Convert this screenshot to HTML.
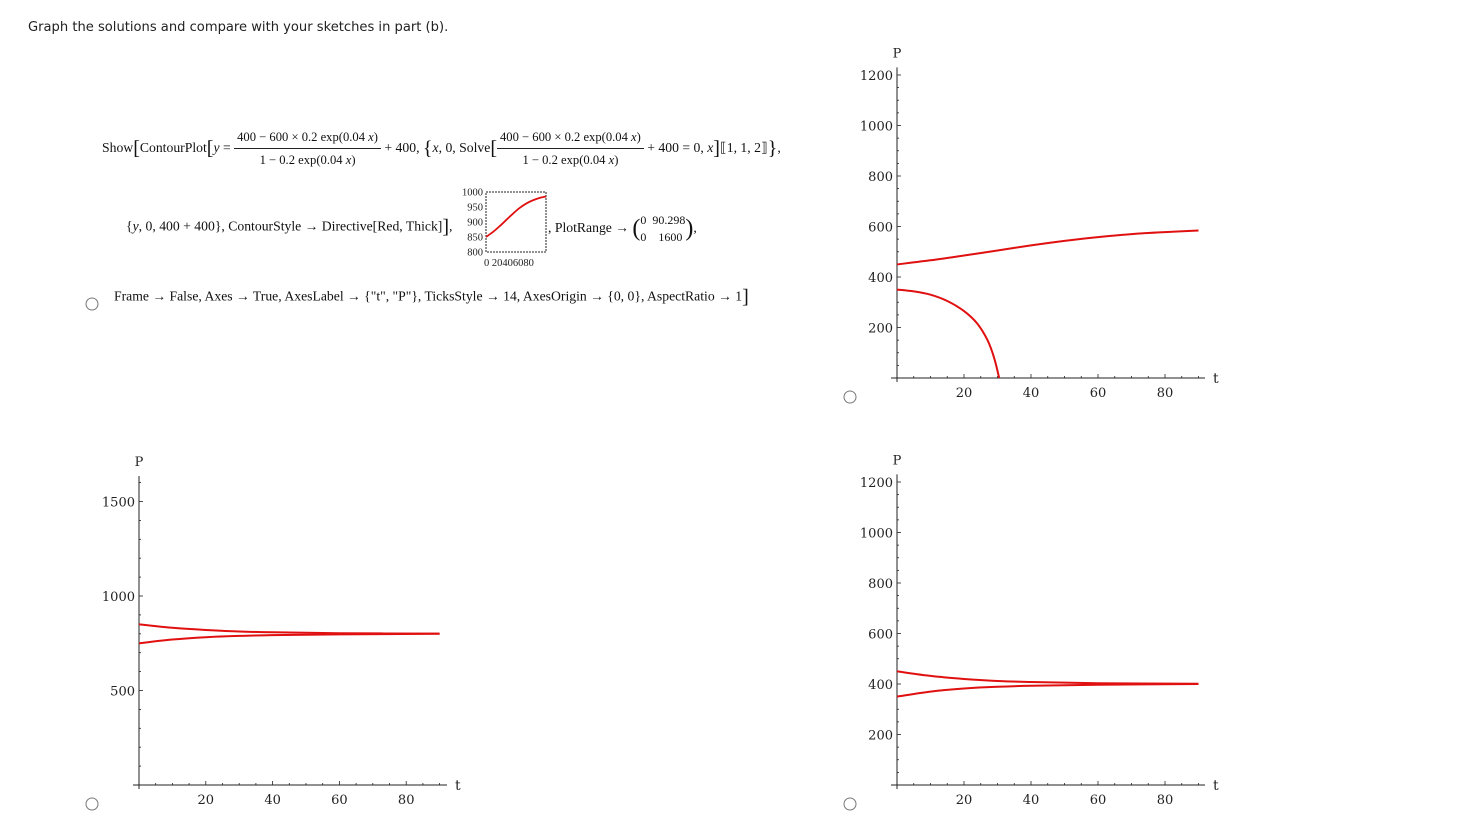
<!DOCTYPE html>
<html><head><meta charset="utf-8">
<style>
body{margin:0;width:1480px;height:829px;background:#fff;position:relative;overflow:hidden;font-family:"Liberation Serif",serif;color:#111}
.a{position:absolute;white-space:nowrap}
.m{font-size:13.7px}
.fr{display:inline-block;vertical-align:middle;text-align:center;font-size:12.6px}
.fr .n{border-bottom:1px solid #222;padding:0 3px 3px}
.fr .d{padding-top:4px}
</style></head>
<body>
<div class="a" style="left:28px;top:20px;font-family:'DejaVu Sans',sans-serif;font-size:13.1px;color:#222">Graph the solutions and compare with your sketches in part (b).</div>

<div class="a m" style="left:102px;top:130px">
Show<span style="font-size:20px;vertical-align:middle">[</span>ContourPlot<span style="font-size:20px;vertical-align:middle">[</span><i>y</i> =
<span class="fr"><div class="n">400 − 600 × 0.2 exp(0.04 <i>x</i>)</div><div class="d">1 − 0.2 exp(0.04 <i>x</i>)</div></span>
 + 400, <span style="font-size:20px;vertical-align:middle">{</span><i>x</i>, 0, Solve<span style="font-size:20px;vertical-align:middle">[</span><span class="fr"><div class="n">400 − 600 × 0.2 exp(0.04 <i>x</i>)</div><div class="d">1 − 0.2 exp(0.04 <i>x</i>)</div></span> + 400 = 0, <i>x</i><span style="font-size:20px;vertical-align:middle">]</span>⟦1, 1, 2⟧<span style="font-size:20px;vertical-align:middle">}</span>,
</div>
<div class="a m" style="left:126px;top:216px">{<i>y</i>, 0, 400 + 400}, ContourStyle → Directive[Red, Thick]<span style="font-size:20px;vertical-align:middle">]</span>,</div>
<div class="a m" style="left:548px;top:212px">, PlotRange → <span style="font-size:24px;vertical-align:middle">(</span><span style="display:inline-block;vertical-align:middle;font-size:12px;line-height:17px">0&nbsp;&nbsp;90.298<br>0&nbsp;&nbsp;&nbsp;&nbsp;1600</span><span style="font-size:24px;vertical-align:middle">)</span>,</div>
<div class="a m" style="left:114px;top:286px">Frame → False, Axes → True, AxesLabel → {"t", "P"}, TicksStyle → 14, AxesOrigin → {0, 0}, AspectRatio → 1<span style="font-size:20px;vertical-align:middle">]</span></div>

<svg id="s" width="1480" height="829" style="position:absolute;left:0;top:0">
<g id="radios"></g>
</svg>
<script>
// chart A (top-right)
const tA_up=[0,10,20,30,40,50,60,70,80,90];
const pA_up=[450,466,485,505,525,543,558,570,578,584];
const tA_lo=[0,5,10,15,20,24,27,29,30.5];
const pA_lo=[350,343,330,305,265,215,150,80,0];
// chart B (bottom-left)
const tB=[0,10,20,30,40,60,90];
const pB_up=[850,832,820,812,808,803,801];
const pB_lo=[750,770,782,789,793,797,800];
// chart C (bottom-right)
const tC=[0,10,20,30,40,60,90];
const pC_up=[450,432,420,412,408,403,401];
const pC_lo=[350,370,382,389,393,397,400];
// inset
const tI=[0,10,20,30,40,50,60,70,80,90];
const pI=[850,866,885,906,927,946,961,972,980,985];
const xTicks=[20,40,60,80];
const yTicksA=[200,400,600,800,1000,1200];
const yTicksB=[500,1000,1500];
const insetYTicks=[800,850,900,950,1000];

const NS='http://www.w3.org/2000/svg';
const svg=document.getElementById('s');
function mk(tag,attrs,parent){const e=document.createElementNS(NS,tag);for(const k in attrs)e.setAttribute(k,attrs[k]);(parent||svg).appendChild(e);return e;}
function smooth(pts){
  let d='M'+pts[0][0].toFixed(1)+','+pts[0][1].toFixed(1);
  for(let i=0;i<pts.length-1;i++){
    const p0=pts[Math.max(0,i-1)],p1=pts[i],p2=pts[i+1],p3=pts[Math.min(pts.length-1,i+2)];
    const c1=[p1[0]+(p2[0]-p0[0])/6,p1[1]+(p2[1]-p0[1])/6];
    const c2=[p2[0]-(p3[0]-p1[0])/6,p2[1]-(p3[1]-p1[1])/6];
    d+=' C'+c1.map(v=>v.toFixed(1)).join(',')+' '+c2.map(v=>v.toFixed(1)).join(',')+' '+p2.map(v=>v.toFixed(1)).join(',');
  }
  return d;
}

function chart(name,ox,oy,sx,sy,ymax,yTicks,yMinor,series){
  const g=mk('g',{});
  
  
  const X=t=>ox+t*sx, Y=p=>oy-p*sy;
  const xa=mk('line',{x1:ox-6,y1:oy,x2:ox+308,y2:oy,stroke:'#222','stroke-width':1},g);
  
  const ya=mk('line',{x1:ox,y1:oy+4,x2:ox,y2:Y(ymax),stroke:'#222','stroke-width':1},g);
  
  for(let t=5;t<=90;t+=5){const big=t%20==0;mk('line',{x1:X(t),y1:oy,x2:X(t),y2:oy-(big?4:2),stroke:'#222','stroke-width':0.8},g);}
  for(let p=yMinor;Y(p)>Y(ymax);p+=yMinor){const big=yTicks.includes(p);mk('line',{x1:ox,y1:Y(p),x2:ox+(big?4:2),y2:Y(p),stroke:'#222','stroke-width':0.8},g);}
  xTicks.forEach(t=>{const e=mk('text',{x:X(t),y:oy+19,'text-anchor':'middle','font-size':13,'font-family':'DejaVu Serif,Liberation Serif,serif',fill:'#222'},g);e.textContent=t;
    });
  yTicks.forEach(p=>{const e=mk('text',{x:ox-4,y:Y(p)+5,'text-anchor':'end','font-size':13,'font-family':'DejaVu Serif,Liberation Serif,serif',fill:'#222'},g);e.textContent=p;
    });
  let e=mk('text',{x:ox+316,y:oy+5,'font-size':14,'font-family':'DejaVu Serif,serif',fill:'#222'},g);e.textContent='t';
  
  e=mk('text',{x:ox,y:Y(ymax)-10,'text-anchor':'middle','font-size':13,'font-family':'DejaVu Serif,serif',fill:'#222'},g);e.textContent='P';
  
  series.forEach(([ts,ps],i)=>{
    const d=smooth(ts.map((t,j)=>[X(t),Y(ps[j])]));
    const pth=mk('path',{d:d,fill:'none',stroke:'#e01010','stroke-width':2,'stroke-linejoin':'round'},g);
    
    
  });
}
chart('chart-option-a',897,378,3.35,0.2525,1230,yTicksA,50,[[tA_up,pA_up],[tA_lo,pA_lo]]);
chart('chart-option-b',139,785,3.34,0.189,1635,yTicksB,100,[[tB,pB_up],[tB,pB_lo]]);
chart('chart-option-c',897,785,3.35,0.2525,1230,yTicksA,50,[[tC,pC_up],[tC,pC_lo]]);

// inset
(function(){
  const g=mk('g',{});
  
  
  const x0=486,x1=546,y0=252,y1=192;
  const X=t=>x0+t/90*(x1-x0), Y=p=>y0-(p-800)/200*(y0-y1);
  const r=mk('rect',{x:x0,y:y1,width:x1-x0,height:y0-y1,fill:'none',stroke:'#222','stroke-width':1,'stroke-dasharray':'2,1'},g);
  
  insetYTicks.forEach(p=>{const e=mk('text',{x:x0-3,y:Y(p)+3.5,'text-anchor':'end','font-size':10.5,'font-family':'Liberation Serif,serif',fill:'#222'},g);e.textContent=p;
    });
  const e=mk('text',{x:484,y:266,'font-size':10.5,'font-family':'Liberation Serif,serif',fill:'#222'},g);e.textContent='0 20406080';
  
  const d=smooth(tI.map((t,j)=>[X(t),Y(pI[j])]));
  const p=mk('path',{d:d,fill:'none',stroke:'#e01010','stroke-width':1.8},g);
  
})();

// radio buttons
const radios=[[92,304,'radio-option-1'],[850,397,'radio-option-2'],[92,804,'radio-option-3'],[850,804,'radio-option-4']];
radios.forEach(([x,y,n])=>{const c=mk('circle',{cx:x,cy:y,r:6,fill:'#fff',stroke:'#777','stroke-width':1},document.getElementById('radios'));
  
  });
</script>
</body></html>
